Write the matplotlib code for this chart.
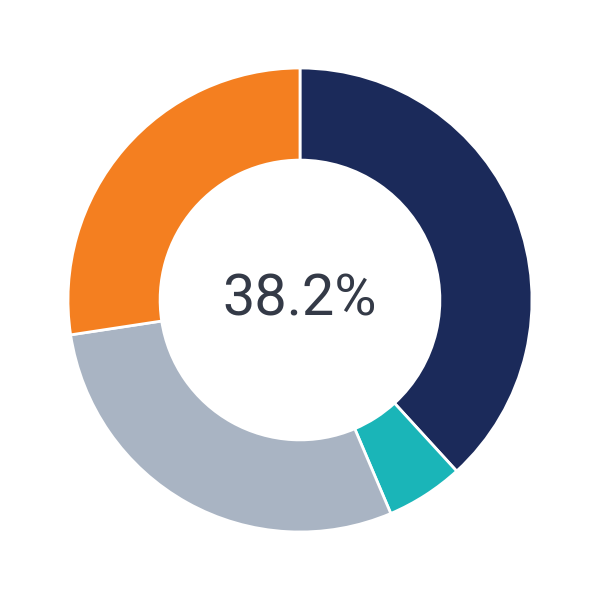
import matplotlib
matplotlib.use("Agg")
import matplotlib.pyplot as plt

# --- Data (clockwise from 12 o'clock) ---
labels = ["Navy", "Teal", "Gray", "Orange"]
shares = [38.2, 5.4, 29.0, 27.4]
colors = ["#1b2a5a", "#1ab5b8", "#a9b4c3", "#f47f20"]
center_label = "38.2%"

fig = plt.figure(figsize=(6, 6), dpi=100)
ax = fig.add_axes([0, 0, 1, 1])

ax.pie(
    shares,
    colors=colors,
    startangle=90,
    counterclock=False,
    radius=1.0,
    wedgeprops=dict(width=0.397, edgecolor="white", linewidth=2),
)

ax.text(0, 0, center_label, ha="center", va="center",
        fontsize=41.5, color="#343a47", family=["Roboto", "DejaVu Sans"])

lim = 300 / 232
ax.set_xlim(-lim, lim)
ax.set_ylim(-lim, lim)
ax.set_aspect("equal")
ax.axis("off")

fig.savefig("out.png", dpi=100, facecolor="white")
